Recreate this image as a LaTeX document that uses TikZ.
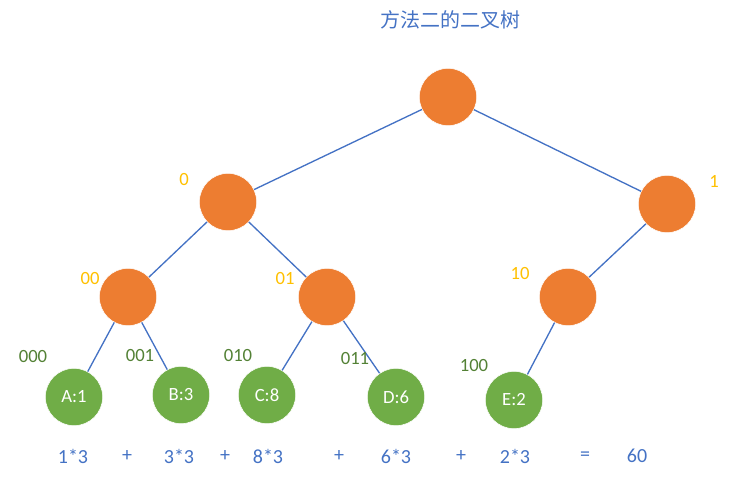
\documentclass[tikz,border=0pt]{standalone}
\usepackage{fontspec}
\setmainfont{Carlito}
\newfontfamily\cjk{Noto Sans CJK SC}
\definecolor{inner}{HTML}{ED7D31}
\definecolor{leafc}{HTML}{70AD47}
\definecolor{edgec}{HTML}{4472C4}
\definecolor{codey}{HTML}{FFC000}
\definecolor{codeg}{HTML}{538135}
\tikzset{
  knot/.style={circle,fill=inner,draw=white,minimum size=43pt,inner sep=0pt},
  leaf/.style={circle,fill=leafc,draw=white,minimum size=43pt,inner sep=0pt,text=white,font=\fontsize{14}{14}\selectfont},
  edge/.style={edgec,line width=1pt},
  codeo/.style={text=codey,font=\fontsize{14}{14}\selectfont},
  codel/.style={text=codeg,font=\fontsize{14}{14}\selectfont},
  sumt/.style={text=edgec,font=\fontsize{15}{15}\selectfont}
}
\begin{document}
\begin{tikzpicture}[x=0.75pt,y=-0.75pt]
  \useasboundingbox (0,0) rectangle (735,483);
  \node[text=edgec,font=\cjk\fontsize{15}{15}\selectfont] (title) at (450,20) {方法二的二叉树};
  % inner nodes
  \node[knot] (r) at (448,97) {};
  \node[knot] (n0) at (228,202) {};
  \node[knot] (n1) at (667,204) {};
  \node[knot] (n00) at (128,297) {};
  \node[knot] (n01) at (327,297) {};
  \node[knot] (n10) at (568,297) {};
  % leaves
  \node[leaf] (a) at (74,397) {A:1};
  \node[leaf] (b) at (181,395) {B:3};
  \node[leaf] (c) at (267,395) {C:8};
  \node[leaf] (d) at (396,397) {D:6};
  \node[leaf] (e) at (514,400) {E:2};
  \foreach \u/\v in {r/n0,r/n1,n0/n00,n0/n01,n1/n10,n00/a,n00/b,n01/c,n01/d,n10/e}
    \draw[edge] (\u) -- (\v);
  % codes
  \node[codeo] (l0) at (184,180) {0};
  \node[codeo] (l1) at (714,181) {1};
  \node[codeo] (l00) at (90,278) {00};
  \node[codeo] (l01) at (285,278) {01};
  \node[codeo] (l10) at (520,273) {10};
  \node[codel] (l000) at (33,356) {000};
  \node[codel] (l001) at (140,355) {001};
  \node[codel] (l010) at (238,355) {010};
  \node[codel] (l011) at (355,358) {011};
  \node[codel] (l100) at (474,365) {100};
  % sum
  \foreach \x/\t [count=\k] in {73/1*3,127/+,179/3*3,225/+,268/8*3,339/+,396/6*3,461/+,515/2*3,585/=,637/60}
    \node[sumt] (s\k) at (\x,456) {\t};
\end{tikzpicture}
\end{document}
